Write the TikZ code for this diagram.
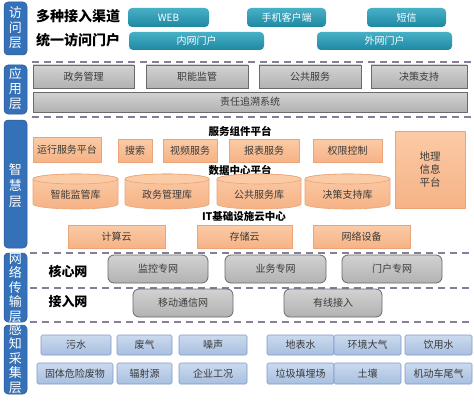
\documentclass[tikz,border=0pt]{standalone}
\usepackage{fontspec}
\newfontfamily\cjk{Noto Sans CJK SC}
\definecolor{barblue}{HTML}{3471B9}
\definecolor{tealA}{HTML}{48B0C6}
\definecolor{tealB}{HTML}{1E88A3}
\definecolor{greyA}{HTML}{D2D2D2}
\definecolor{greyB}{HTML}{B2B2B2}
\definecolor{greyE}{HTML}{6A6A6A}
\definecolor{oraA}{HTML}{FBCBA6}
\definecolor{oraB}{HTML}{F6B285}
\definecolor{oraE}{HTML}{EBA478}
\definecolor{lbA}{HTML}{CBDAEE}
\definecolor{lbB}{HTML}{A8BFE0}
\definecolor{lbE}{HTML}{7E9BC9}
\definecolor{sepc}{HTML}{877D98}
\definecolor{txt}{HTML}{3A3A3A}
\newcommand\cylbox[6]{%
  \pgfmathsetmacro\cx{(#1+#3)/2}\pgfmathsetmacro\rx{(#3-#1)/2}%
  \path[top color=oraA,bottom color=oraB,draw=oraE,line width=0.6pt] (#1,{#2+5}) -- (#1,{#4-5}) arc[start angle=180,end angle=360,x radius=\rx pt,y radius=5pt] -- (#3,{#2+5}) arc[start angle=0,end angle=180,x radius=\rx pt,y radius=5pt] -- cycle;
  \path[fill=oraA,draw=oraE,line width=0.6pt] (\cx,{#2+5}) ellipse[x radius=\rx pt,y radius=5pt];
  \node[cyltext] (#5) at (\cx,{(#2+#4)/2+3}) {#6};}
\tikzset{
  bar/.style={fill=barblue,rounded corners=4pt,draw=barblue!80!black,line width=0.5pt},
  bartext/.style={text=white,align=center,inner sep=0pt,font=\cjk\fontsize{13}{14.5}\selectfont},
  sep/.style={draw=sepc,line width=2pt,dash pattern=on 7pt off 5pt},
  head/.style={inner sep=0pt,text=black,font=\cjk\bfseries\fontsize{14}{16}\selectfont},
  sub/.style={inner sep=0pt,text=black,font=\cjk\bfseries\fontsize{10.5}{12}\selectfont},
  tealbox/.style={inner sep=0pt,rounded corners=4pt,top color=tealA,bottom color=tealB,text=white,font=\cjk\fontsize{10}{12}\selectfont},
  appbox/.style={inner sep=0pt,top color=greyA,bottom color=greyB,draw=greyE,line width=0.7pt,text=txt,font=\cjk\fontsize{10}{12}\selectfont},
  orabox/.style={inner sep=0pt,top color=oraA,bottom color=oraB,draw=oraE,line width=0.6pt,text=txt,font=\cjk\fontsize{10}{12}\selectfont},
  cyltext/.style={inner sep=0pt,text=txt,font=\cjk\fontsize{10}{12}\selectfont},
  netbox/.style={inner sep=0pt,rounded corners=6pt,top color=greyA,bottom color=greyB,draw=greyE,line width=0.8pt,text=txt,font=\cjk\fontsize{10}{12}\selectfont},
  lbbox/.style={inner sep=0pt,rounded corners=1.5pt,top color=lbA,bottom color=lbB,draw=lbE,line width=0.6pt,text=txt,font=\cjk\fontsize{10}{12}\selectfont},
}
\begin{document}
\begin{tikzpicture}[x=1pt,y=-1pt]
\useasboundingbox[fill=white] (0,0) rectangle (474,404);
% left bars
\path[bar] (4,2) rectangle (27,55);
\node[bartext,font=\cjk\fontsize{13}{15}\selectfont] (l1) at (15.5,28) {访\\问\\层};
\path[bar] (4,65) rectangle (27,114);
\node[bartext,font=\cjk\fontsize{13}{15}\selectfont] (l2) at (15.5,89) {应\\用\\层};
\path[bar] (4,120) rectangle (27,248);
\node[bartext,font=\cjk\fontsize{13}{16}\selectfont] (l3) at (15.5,186) {智\\慧\\层};
\path[bar] (4,253) rectangle (27,322);
\node[bartext] (l4) at (15.5,288) {网\\络\\传\\输\\层};
\path[bar] (4,325) rectangle (27,394);
\node[bartext] (l5) at (15.5,358.5) {感\\知\\采\\集\\层};
% separators
\draw[sep] (32,62) -- (474,62);
\draw[sep] (32,117) -- (474,117);
\draw[sep] (30,253) -- (474,253);
\draw[sep] (30,288) -- (474,288);
\draw[sep] (30,322) -- (474,322);
% access layer
\node[head] (h1) at (78,16) {多种接入渠道};
\node[head] (h2) at (78,40) {统一访问门户};
\node[tealbox,minimum width=81pt,minimum height=19pt] (web) at (168.5,17.5) {WEB};
\node[tealbox,minimum width=79pt,minimum height=19pt] (app) at (286.5,17.5) {手机客户端};
\node[tealbox,minimum width=79pt,minimum height=19pt] (sms) at (406.5,17.5) {短信};
\node[tealbox,minimum width=135pt,minimum height=18pt] (inn) at (196.5,41) {内网门户};
\node[tealbox,minimum width=135pt,minimum height=18pt] (out) at (384.5,41) {外网门户};
% application layer
\node[appbox,minimum width=101pt,minimum height=23pt] (a1) at (83.5,76.5) {政务管理};
\node[appbox,minimum width=102pt,minimum height=23pt] (a2) at (197,76.5) {职能监管};
\node[appbox,minimum width=102pt,minimum height=23pt] (a3) at (310,76.5) {公共服务};
\node[appbox,minimum width=96pt,minimum height=23pt] (a4) at (419,76.5) {决策支持};
\node[appbox,minimum width=434pt,minimum height=20pt] (a5) at (250,102) {责任追溯系统};
% smart layer
\node[sub] (s0) at (240,131) {服务组件平台};
\node[orabox,minimum width=68pt,minimum height=25pt] (s1) at (67,149.5) {运行服务平台};
\node[orabox,minimum width=34pt,minimum height=23pt] (s2) at (135,150.5) {搜索};
\node[orabox,minimum width=54pt,minimum height=23pt] (s3) at (190,150.5) {视频服务};
\node[orabox,minimum width=70pt,minimum height=23pt] (s4) at (264,150.5) {报表服务};
\node[orabox,minimum width=69pt,minimum height=23pt] (s5) at (347.5,150.5) {权限控制};
\node[orabox,minimum width=70pt,minimum height=77pt,align=center,font=\cjk\fontsize{10.5}{13}\selectfont] (gis) at (430,169.5) {地理\\信息\\平台};
\node[sub] (d0) at (240,170) {数据中心平台};
\cylbox{33}{174}{118}{209}{d1}{智能监管库}
\cylbox{125}{174}{209}{209}{d2}{政务管理库}
\cylbox{217}{174}{301}{209}{d3}{公共服务库}
\cylbox{305}{174}{390}{209}{d4}{决策支持库}
\node[sub] (c0) at (244,217) {IT基础设施云中心};
\node[orabox,minimum width=97pt,minimum height=23pt] (c1) at (116.5,236.5) {计算云};
\node[orabox,minimum width=95pt,minimum height=23pt] (c2) at (244.5,236.5) {存储云};
\node[orabox,minimum width=97pt,minimum height=23pt] (c3) at (361.5,236.5) {网络设备};
% network layer
\node[head,font=\cjk\bfseries\fontsize{13}{15}\selectfont] (n0) at (68,271) {核心网};
\node[netbox,minimum width=100pt,minimum height=28pt] (n1) at (158,269) {监控专网};
\node[netbox,minimum width=101pt,minimum height=28pt] (n2) at (275.5,269) {业务专网};
\node[netbox,minimum width=100pt,minimum height=28pt] (n3) at (392,269) {门户专网};
\node[head,font=\cjk\bfseries\fontsize{13}{15}\selectfont] (m0) at (68,302) {接入网};
\node[netbox,minimum width=100pt,minimum height=28pt] (m1) at (183,303) {移动通信网};
\node[netbox,minimum width=98pt,minimum height=28pt] (m2) at (333,303) {有线接入};
% sensing layer
\node[lbbox,minimum width=70pt,minimum height=20pt] (p1) at (76,345) {污水};
\node[lbbox,minimum width=55pt,minimum height=20pt] (p2) at (144.5,345) {废气};
\node[lbbox,minimum width=68pt,minimum height=20pt] (p3) at (213,345) {噪声};
\node[lbbox,minimum width=67pt,minimum height=20pt] (p4) at (300.5,345) {地表水};
\node[lbbox,minimum width=67pt,minimum height=20pt] (p5) at (367.5,345) {环境大气};
\node[lbbox,minimum width=67pt,minimum height=20pt] (p6) at (438.5,345) {饮用水};
\node[lbbox,minimum width=76pt,minimum height=21pt] (q1) at (75,373.5) {固体危险废物};
\node[lbbox,minimum width=55pt,minimum height=21pt] (q2) at (144.5,373.5) {辐射源};
\node[lbbox,minimum width=68pt,minimum height=21pt] (q3) at (213,373.5) {企业工况};
\node[lbbox,minimum width=67pt,minimum height=21pt] (q4) at (300.5,373.5) {垃圾填埋场};
\node[lbbox,minimum width=67pt,minimum height=21pt] (q5) at (367.5,373.5) {土壤};
\node[lbbox,minimum width=67pt,minimum height=21pt] (q6) at (438.5,373.5) {机动车尾气};
\end{tikzpicture}
\end{document}
